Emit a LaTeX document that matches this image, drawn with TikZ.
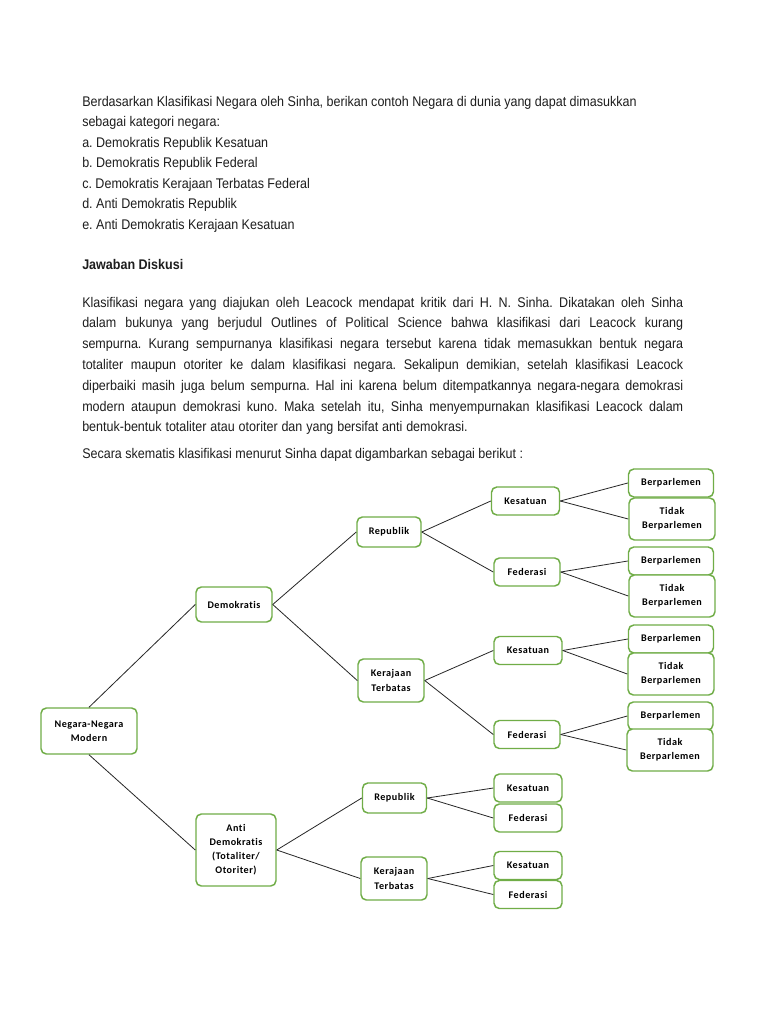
\documentclass[tikz,border=0pt]{standalone}
\usepackage{fontspec}
\setmainfont[FakeStretch=0.895]{Liberation Sans}
\newfontfamily\kotakfont[LetterSpace=5, Ligatures=NoCommon, RawFeature=-liga]{Carlito}
\usetikzlibrary{positioning}
\definecolor{hijau}{RGB}{112,173,71}
\definecolor{tinta}{RGB}{30,30,30}
\newcommand{\px}{0.75pt}
\newcommand{\rata}[2][450.75pt]{\makebox[#1][s]{#2}}
\frenchspacing
\tikzset{
    kotak/.style = {rectangle, rounded corners=4pt, draw=hijau, line width=1.1pt, fill=white, align=center, text=black, inner sep=0pt, font=\kotakfont\bfseries\fontsize{7.6}{10.6}\selectfont},
    daun/.style = {kotak, minimum width=85*\px, minimum height=28*\px},
    dauntidak/.style = {kotak, minimum width=86*\px, minimum height=42*\px},
    cabang/.style = {kotak, minimum width=68*\px, minimum height=28*\px},
    ranting/.style = {kotak, minimum width=64*\px, minimum height=30*\px},
    rantingduo/.style = {kotak, minimum width=66*\px, minimum height=43*\px},
    garis/.style = {draw=black!85, line width=0.6pt},
    baris/.style = {anchor=base west, inner sep=0pt, text=tinta, font=\fontsize{10.5}{15.6}\selectfont}
}
\begin{document}
\begin{tikzpicture}[x=0.75pt, y=-0.75pt]
\fill[white] (0,0) rectangle (768,1024);
\useasboundingbox (0,0) rectangle (768,1024);

% Soal
\node (soal1) [baris] at (82,106) {Berdasarkan Klasifikasi Negara oleh Sinha, berikan contoh Negara di dunia yang dapat dimasukkan};
\node (soal2) [baris] at (82,126.5) {sebagai kategori negara:};
\node (soala) [baris] at (82,147) {a. Demokratis Republik Kesatuan};
\node (soalb) [baris] at (82,167.5) {b. Demokratis Republik Federal};
\node (soalc) [baris] at (82,188) {c. Demokratis Kerajaan Terbatas Federal};
\node (soald) [baris] at (82,208.5) {d. Anti Demokratis Republik};
\node (soale) [baris] at (82,229) {e. Anti Demokratis Kerajaan Kesatuan};

% Jawaban
\node (judul) [baris, font=\bfseries\fontsize{10.5}{15.6}\selectfont] at (82,269) {Jawaban Diskusi};
\node (par1) [baris] at (82,307) {\rata{Klasifikasi negara yang diajukan oleh Leacock mendapat kritik dari H. N. Sinha. Dikatakan oleh Sinha}};
\node (par2) [baris] at (82,327.8) {\rata{dalam bukunya yang berjudul Outlines of Political Science bahwa klasifikasi dari Leacock kurang}};
\node (par3) [baris] at (82,348.6) {\rata{sempurna. Kurang sempurnanya klasifikasi negara tersebut karena tidak memasukkan bentuk negara}};
\node (par4) [baris] at (82,369.4) {\rata{totaliter maupun otoriter ke dalam klasifikasi negara. Sekalipun demikian, setelah klasifikasi Leacock}};
\node (par5) [baris] at (82,390.2) {\rata{diperbaiki masih juga belum sempurna. Hal ini karena belum ditempatkannya negara-negara demokrasi}};
\node (par6) [baris] at (82,411) {\rata{modern ataupun demokrasi kuno. Maka setelah itu, Sinha menyempurnakan klasifikasi Leacock dalam}};
\node (par7) [baris] at (82,431.8) {\rata[289pt]{bentuk-bentuk totaliter atau otoriter dan yang bersifat anti demokrasi.}};
\node (skema) [baris] at (82,458) {Secara skematis klasifikasi menurut Sinha dapat digambarkan sebagai berikut :};

% Bagan
\node (modern) [kotak, minimum width=96*\px, minimum height=46*\px] at (89,731) {Negara-Negara\\Modern};
\node (demo) [kotak, minimum width=76*\px, minimum height=35*\px] at (234,604.5) {Demokratis};
\node (anti) [kotak, minimum width=80*\px, minimum height=72*\px] at (236,850) {Anti\\Demokratis\\(Totaliter/\\Otoriter)};

\node (repA) [ranting] at (389,532) {Republik};
\node (kerA) [rantingduo] at (391,680.5) {Kerajaan\\Terbatas};
\node (repB) [ranting] at (394.5,798) {Republik};
\node (kerB) [rantingduo] at (394,878.5) {Kerajaan\\Terbatas};

\node (kesA) [cabang] at (525.5,501) {Kesatuan};
\node (fedA) [cabang, minimum width=66*\px] at (527,572) {Federasi};
\node (kesB) [cabang] at (528,650.5) {Kesatuan};
\node (fedB) [cabang, minimum width=66*\px] at (527,734.5) {Federasi};
\node (kesC) [cabang] at (528,788) {Kesatuan};
\node (fedC) [cabang] at (528,818) {Federasi};
\node (kesD) [cabang] at (528,865.5) {Kesatuan};
\node (fedD) [cabang] at (528,894.5) {Federasi};

\node (parA) [daun] at (671,483) {Berparlemen};
\node (tidA) [dauntidak] at (672,519) {Tidak\\Berparlemen};
\node (parB) [daun] at (671,561) {Berparlemen};
\node (tidB) [dauntidak] at (672,596) {Tidak\\Berparlemen};
\node (parC) [daun] at (671,639) {Berparlemen};
\node (tidC) [dauntidak] at (671,674) {Tidak\\Berparlemen};
\node (parD) [daun] at (670.5,716) {Berparlemen};
\node (tidD) [dauntidak] at (670,750) {Tidak\\Berparlemen};

% Garis penghubung
\draw [garis] (modern.north) -- (demo.west);
\draw [garis] (modern.south) -- (anti.west);
\draw [garis] (demo.east) -- (repA.west);
\draw [garis] (demo.east) -- (kerA.west);
\draw [garis] (anti.east) -- (repB.west);
\draw [garis] (anti.east) -- (kerB.west);
\draw [garis] (repA.east) -- (kesA.west);
\draw [garis] (repA.east) -- (fedA.west);
\draw [garis] (kerA.east) -- (kesB.west);
\draw [garis] (kerA.east) -- (fedB.west);
\draw [garis] (repB.east) -- (kesC.west);
\draw [garis] (repB.east) -- (fedC.west);
\draw [garis] (kerB.east) -- (kesD.west);
\draw [garis] (kerB.east) -- (fedD.west);
\draw [garis] (kesA.east) -- (parA.west);
\draw [garis] (kesA.east) -- (tidA.west);
\draw [garis] (fedA.east) -- (parB.west);
\draw [garis] (fedA.east) -- (tidB.west);
\draw [garis] (kesB.east) -- (parC.west);
\draw [garis] (kesB.east) -- (tidC.west);
\draw [garis] (fedB.east) -- (parD.west);
\draw [garis] (fedB.east) -- (tidD.west);

\end{tikzpicture}
\end{document}
